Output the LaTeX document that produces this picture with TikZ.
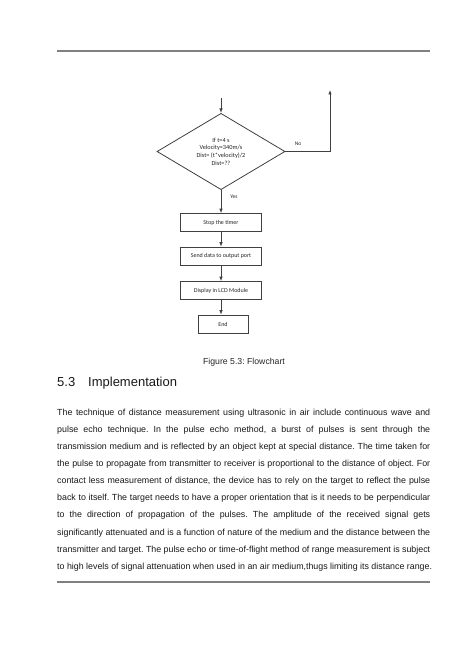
\documentclass[tikz,border=0pt]{standalone}
\usepackage{fontspec}
\setmainfont{Liberation Sans}
\newfontfamily\boxfont{Carlito}
\usetikzlibrary{shapes.geometric,arrows.meta}
\frenchspacing
\begin{document}
\begin{tikzpicture}[x=1pt,y=-1pt,
  flowline/.style={draw=black!75, line width=0.8pt},
  arr/.style={flowline, -{Latex[length=4.5pt,width=3.6pt]}},
  stepbox/.style={draw=black!75, line width=0.8pt, minimum width=81pt, minimum height=18pt, inner sep=0pt, text=black!85, font=\boxfont\fontsize{6}{7}\selectfont},
  decision/.style={diamond, draw=black!75, line width=0.8pt, minimum width=128pt, minimum height=73pt, inner sep=0pt, align=center, text=black!85, font=\boxfont\fontsize{6.3}{7.7}\selectfont},
  lbl/.style={font=\boxfont\fontsize{5.5}{6}\selectfont, inner sep=0pt, text=black!85},
  bodyline/.style={anchor=base west, inner sep=0pt, font=\fontsize{8.85}{10}\selectfont, text=black!90},
  rule/.style={draw=black!50, line width=1.2pt}
]
\useasboundingbox (0,0) rectangle (474,671);
\fill[white] (0,0) rectangle (474,671);
% rules
\coordinate (tl) at (57,51); \coordinate (tr) at (430,51);
\draw[rule] (tl) -- (tr);
\coordinate (bl) at (57,582); \coordinate (br) at (430,582);
\draw[rule] (bl) -- (br);
% flowchart
\node[decision] (dec) at (221,151.5) {If t=4 s\\Velocity=340m/s\\Dist= (t*velocity)/2\\Dist=??};
\coordinate (in) at (221,98);
\draw[arr] (in) -- (dec.north);
\coordinate (nocorner) at (330,151.5);
\coordinate (noend) at (330,90);
\draw[arr] (dec.east) -- (nocorner) -- (noend);
\node[lbl] (no) at (298,144) {No};
\node[stepbox] (b1) at (221,222.5) {Stop the timer};
\node[stepbox] (b2) at (221,256) {Send data to output port};
\node[stepbox] (b3) at (221,290.5) {Display in LCD Module};
\node[stepbox, minimum width=50pt] (b4) at (223,324) {End};
\draw[arr] (dec.south) -- (b1.north);
\node[lbl] (yes) at (234,197) {Yes};
\draw[arr] (b1.south) -- (b2.north);
\draw[arr] (b2.south) -- (b3.north);
\draw[arr] (b3.south) -- (b3.south |- b4.north);
% caption and heading
\node[anchor=base, inner sep=0pt, font=\fontsize{8.7}{10}\selectfont, text=black!85] (cap) at (244,364) {Figure 5.3: Flowchart};
\node[anchor=base west, inner sep=0pt, font=\fontsize{13}{15}\selectfont, text=black!90] (secnum) at (57,386) {5.3};
\node[anchor=base west, inner sep=0pt, font=\fontsize{13}{15}\selectfont, text=black!90] (sectitle) at (88,386) {Implementation};
% body
\node[bodyline] (l1) at (57,415.3) {\makebox[373pt][s]{The technique of distance measurement using ultrasonic in air include continuous wave and}};
\node[bodyline] (l2) at (57,432.4) {\makebox[373pt][s]{pulse echo technique. In the pulse echo method, a burst of pulses is sent through the}};
\node[bodyline] (l3) at (57,449.5) {\makebox[373pt][s]{transmission medium and is reflected by an object kept at special distance. The time taken for}};
\node[bodyline] (l4) at (57,466.6) {\makebox[373pt][s]{the pulse to propagate from transmitter to receiver is proportional to the distance of object. For}};
\node[bodyline] (l5) at (57,483.7) {\makebox[373pt][s]{contact less measurement of distance, the device has to rely on the target to reflect the pulse}};
\node[bodyline] (l6) at (57,500.8) {\makebox[373pt][s]{back to itself. The target needs to have a proper orientation that is it needs to be perpendicular}};
\node[bodyline] (l7) at (57,517.9) {\makebox[373pt][s]{to the direction of propagation of the pulses. The amplitude of the received signal gets}};
\node[bodyline] (l8) at (57,535.0) {\makebox[373pt][s]{significantly attenuated and is a function of nature of the medium and the distance between the}};
\node[bodyline] (l9) at (57,552.1) {\makebox[373pt][s]{transmitter and target. The pulse echo or time-of-flight method of range measurement is subject}};
\node[bodyline] (l10) at (57,569.2) {to high levels of signal attenuation when used in an air medium,thugs limiting its distance range.};
\end{tikzpicture}
\end{document}
